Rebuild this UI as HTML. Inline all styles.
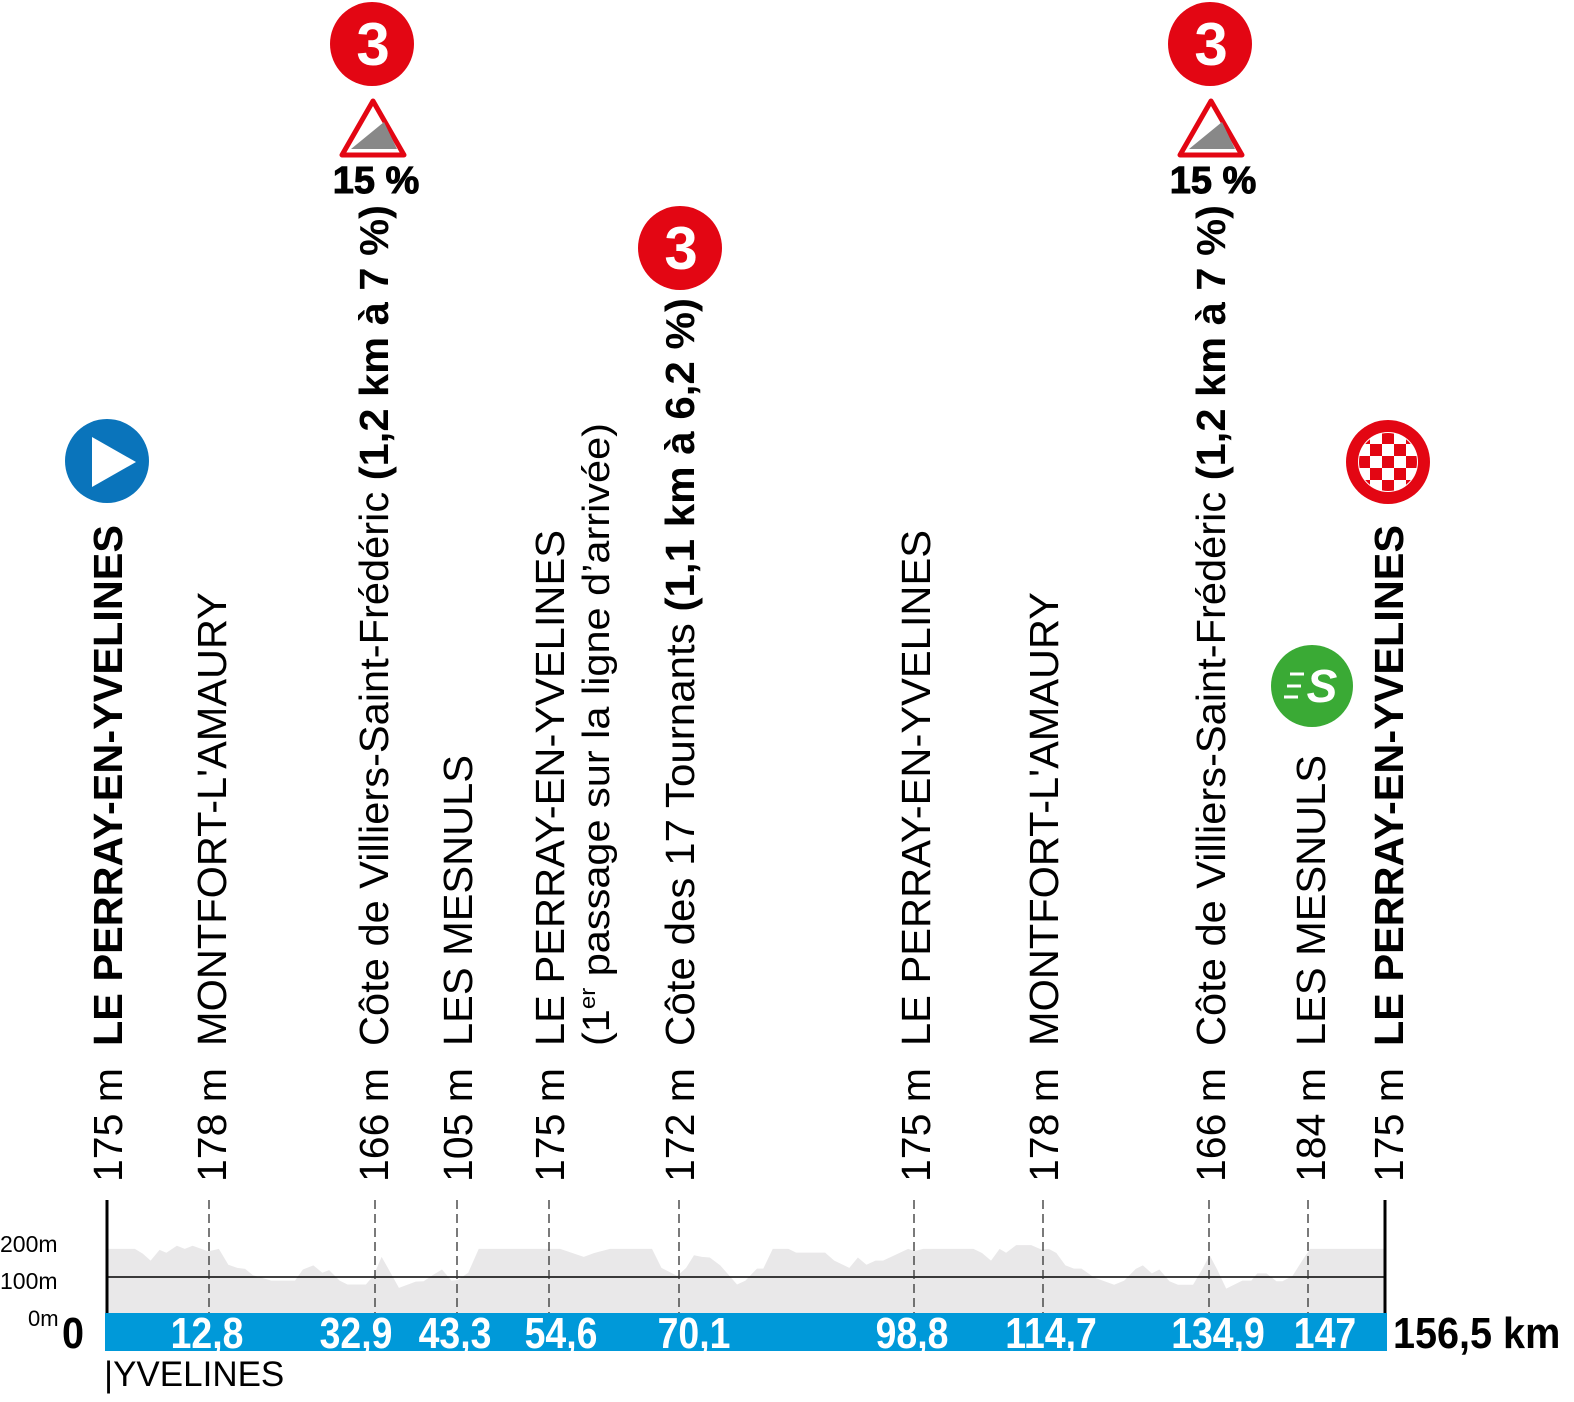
<!DOCTYPE html>
<html><head><meta charset="utf-8"><style>
html,body{margin:0;padding:0;background:#fff;}
svg{display:block;}
text{font-family:"Liberation Sans",Arial,sans-serif;}
</style></head><body>
<svg width="1574" height="1402" viewBox="0 0 1574 1402" xmlns="http://www.w3.org/2000/svg">
<defs>
<clipPath id="fc"><circle cx="1388" cy="462" r="29"/></clipPath>
</defs>

<!-- profile -->
<g transform="matrix(0.525 0 0 0.3175 -4.25 1190.14)" fill="#e9e8e9">
<polygon points="210,387 210,185 265,185 280,200 295,222 312,188 325,197 345,175 360,185 375,175 405,193 425,185 443,235 460,245 475,248 490,268 525,285 570,285 585,250 605,237 622,260 635,252 655,285 670,297 705,297 720,268 735,210 752,260 768,308 800,288 815,287 835,265 850,250 868,285 880,283 900,260 920,185 1075,185 1120,210 1140,198 1170,185 1250,185 1268,245 1298,270 1315,245 1330,205 1345,210 1360,212 1380,237 1412,297 1428,285 1450,247 1462,247 1480,185 1510,185 1525,197 1580,197 1580,387"/>
</g>
<g transform="matrix(0.5025 0 0 0.3175 780 1190.14)" fill="#e9e8e9">
<polygon points="0,387 0,197 90,197 108,222 138,245 155,212 172,235 190,222 205,222 255,185 268,192 285,185 385,185 402,198 420,222 437,185 450,197 470,173 500,173 520,187 535,185 550,198 568,237 585,247 600,247 625,275 665,298 685,285 708,248 722,237 740,262 755,250 775,287 792,298 822,298 840,250 855,205 870,250 888,310 920,285 938,285 950,262 968,262 988,287 1000,287 1020,270 1040,220 1055,185 1203,185 1203,387"/>
</g>
<line x1="106" y1="1277" x2="1385" y2="1277" stroke="#000" stroke-width="1.5"/>
<g stroke="#333" stroke-width="1.3" stroke-dasharray="9,5">
<line x1="209" y1="1200" x2="209" y2="1313"/>
<line x1="375" y1="1200" x2="375" y2="1313"/>
<line x1="457" y1="1200" x2="457" y2="1313"/>
<line x1="549" y1="1200" x2="549" y2="1313"/>
<line x1="679" y1="1200" x2="679" y2="1313"/>
<line x1="914" y1="1200" x2="914" y2="1313"/>
<line x1="1043" y1="1200" x2="1043" y2="1313"/>
<line x1="1209" y1="1200" x2="1209" y2="1313"/>
<line x1="1308" y1="1200" x2="1308" y2="1313"/>
</g>
<line x1="107" y1="1200" x2="107" y2="1314" stroke="#000" stroke-width="3"/>
<line x1="1385" y1="1200" x2="1385" y2="1314" stroke="#000" stroke-width="3"/>
<rect x="105" y="1313" width="1282" height="38" fill="#0099d9"/>
<g fill="#fff" font-weight="bold" font-size="44" text-anchor="middle">
<text transform="translate(207,1348) scale(0.85,1)">12,8</text>
<text transform="translate(356,1348) scale(0.85,1)">32,9</text>
<text transform="translate(455,1348) scale(0.85,1)">43,3</text>
<text transform="translate(561,1348) scale(0.85,1)">54,6</text>
<text transform="translate(694,1348) scale(0.85,1)">70,1</text>
<text transform="translate(912,1348) scale(0.85,1)">98,8</text>
<text transform="translate(1051,1348) scale(0.85,1)">114,7</text>
<text transform="translate(1218,1348) scale(0.85,1)">134,9</text>
<text transform="translate(1325,1348) scale(0.85,1)">147</text>
</g>
<text transform="translate(1393,1348) scale(0.9,1)" font-size="44" font-weight="bold">156,5 km</text>
<text transform="translate(62,1348) scale(0.9,1)" font-size="44" font-weight="bold">0</text>
<text x="28" y="1326" font-size="22">0m</text>
<text x="0" y="1252" font-size="23">200m</text>
<text x="0" y="1289" font-size="23">100m</text>
<text x="104" y="1386" font-size="35">|YVELINES</text>

<!-- labels -->
<g font-size="41">
<text transform="translate(122,1182) rotate(-90)">175 m</text>
<text transform="translate(122,1046) rotate(-90)" font-weight="bold" textLength="521" lengthAdjust="spacingAndGlyphs">LE PERRAY-EN-YVELINES</text>
<text transform="translate(226,1182) rotate(-90)">178 m</text>
<text transform="translate(226,1046) rotate(-90)" textLength="454" lengthAdjust="spacingAndGlyphs">MONTFORT-L'AMAURY</text>
<text transform="translate(388,1182) rotate(-90)">166 m</text>
<text transform="translate(388,1046) rotate(-90)" textLength="841" lengthAdjust="spacingAndGlyphs">Côte de Villiers-Saint-Frédéric <tspan font-weight="bold">(1,2 km à 7 %)</tspan></text>
<text transform="translate(472,1182) rotate(-90)">105 m</text>
<text transform="translate(472,1046) rotate(-90)" textLength="291" lengthAdjust="spacingAndGlyphs">LES MESNULS</text>
<text transform="translate(564,1182) rotate(-90)">175 m</text>
<text transform="translate(564,1046) rotate(-90)" textLength="516" lengthAdjust="spacingAndGlyphs">LE PERRAY-EN-YVELINES</text>
<text transform="translate(609,1046) rotate(-90)" font-size="38" textLength="623" lengthAdjust="spacingAndGlyphs">(1<tspan font-size="22" dy="-14">er</tspan><tspan dy="14"> passage sur la ligne d’arrivée)</tspan></text>
<text transform="translate(694,1182) rotate(-90)">172 m</text>
<text transform="translate(694,1046) rotate(-90)" textLength="748" lengthAdjust="spacingAndGlyphs">Côte des 17 Tournants  <tspan font-weight="bold">(1,1 km à 6,2 %)</tspan></text>
<text transform="translate(930,1182) rotate(-90)">175 m</text>
<text transform="translate(930,1046) rotate(-90)" textLength="516" lengthAdjust="spacingAndGlyphs">LE PERRAY-EN-YVELINES</text>
<text transform="translate(1058,1182) rotate(-90)">178 m</text>
<text transform="translate(1058,1046) rotate(-90)" textLength="454" lengthAdjust="spacingAndGlyphs">MONTFORT-L'AMAURY</text>
<text transform="translate(1225,1182) rotate(-90)">166 m</text>
<text transform="translate(1225,1046) rotate(-90)" textLength="841" lengthAdjust="spacingAndGlyphs">Côte de Villiers-Saint-Frédéric <tspan font-weight="bold">(1,2 km à 7 %)</tspan></text>
<text transform="translate(1325,1182) rotate(-90)">184 m</text>
<text transform="translate(1325,1046) rotate(-90)" textLength="291" lengthAdjust="spacingAndGlyphs">LES MESNULS</text>
<text transform="translate(1403,1182) rotate(-90)">175 m</text>
<text transform="translate(1403,1046) rotate(-90)" font-weight="bold" textLength="521" lengthAdjust="spacingAndGlyphs">LE PERRAY-EN-YVELINES</text>
</g>

<!-- start icon -->
<circle cx="107" cy="461" r="42" fill="#0a74bb"/>
<polygon points="92,437 136,462 92,487" fill="#fff"/>

<!-- climb circles -->
<g font-weight="bold" font-size="60" fill="#fff" text-anchor="middle">
<circle cx="372" cy="44" r="42" fill="#e30613"/><text x="373" y="65">3</text>
<circle cx="1210" cy="44" r="42" fill="#e30613"/><text x="1211" y="65">3</text>
<circle cx="680" cy="248" r="42" fill="#e30613"/><text x="681" y="269">3</text>
</g>
<!-- triangle signs -->
<g>
<polygon points="373,101 342,155 404,155" fill="#fff" stroke="#e30613" stroke-width="5" stroke-linejoin="round"/>
<polygon points="351,149 384,122 397,149" fill="#888"/>
<polygon points="1211,101 1180,155 1242,155" fill="#fff" stroke="#e30613" stroke-width="5" stroke-linejoin="round"/>
<polygon points="1189,149 1222,122 1235,149" fill="#888"/>
</g>
<text x="376" y="193" font-size="38" font-weight="bold" text-anchor="middle" stroke="#000" stroke-width="1">15 %</text>
<text x="1213" y="193" font-size="38" font-weight="bold" text-anchor="middle" stroke="#000" stroke-width="1">15 %</text>

<!-- finish -->
<circle cx="1388" cy="462" r="42" fill="#e30613"/>
<circle cx="1388" cy="462" r="30" fill="#fff"/>
<g clip-path="url(#fc)" fill="#e30613">
<rect x="1358" y="432" width="12" height="12"/><rect x="1382" y="432" width="12" height="12"/><rect x="1406" y="432" width="12" height="12"/>
<rect x="1370" y="444" width="12" height="12"/><rect x="1394" y="444" width="12" height="12"/>
<rect x="1358" y="456" width="12" height="12"/><rect x="1382" y="456" width="12" height="12"/><rect x="1406" y="456" width="12" height="12"/>
<rect x="1370" y="468" width="12" height="12"/><rect x="1394" y="468" width="12" height="12"/>
<rect x="1358" y="480" width="12" height="12"/><rect x="1382" y="480" width="12" height="12"/><rect x="1406" y="480" width="12" height="12"/>
</g>

<!-- sprint -->
<circle cx="1312" cy="686" r="41" fill="#3aaa35"/>
<g stroke="#fff" stroke-width="3">
<line x1="1290" y1="674" x2="1304" y2="674"/>
<line x1="1287" y1="686" x2="1301" y2="686"/>
<line x1="1284" y1="697" x2="1298" y2="697"/>
</g>
<text x="1322" y="702" font-size="46" font-weight="bold" font-style="italic" fill="#fff" text-anchor="middle">S</text>
</svg>
</body></html>
